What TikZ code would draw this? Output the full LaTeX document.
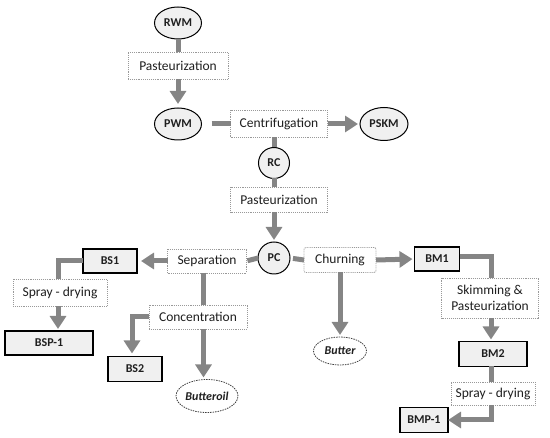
\documentclass[tikz,border=0pt]{standalone}
\usepackage{fontspec}
\setmainfont{Carlito}
\usetikzlibrary{arrows.meta,shapes.geometric,calc}
\definecolor{flow}{HTML}{858585}
\definecolor{fillg}{HTML}{F0F0F0}
\definecolor{txt}{HTML}{1F1F1F}
\definecolor{dotb}{HTML}{999999}
\begin{document}
\begin{tikzpicture}[x=1pt,y=-1pt,
  every node/.style={inner sep=0pt, outer sep=0pt, text=txt},
  proc/.style={draw=dotb, densely dotted, line width=0.9pt, fill=white, font=\fontsize{13.5}{15.5}\selectfont, align=center},
  ell/.style={ellipse, draw=black, line width=1pt, fill=fillg, font=\bfseries\fontsize{12}{14}\selectfont, minimum width=47pt, minimum height=32pt},
  circ/.style={circle, draw=black, line width=1pt, fill=fillg, font=\bfseries\fontsize{12}{14}\selectfont, minimum size=32pt},
  prod/.style={draw=black, line width=1.6pt, fill=fillg, font=\bfseries\fontsize{12}{14}\selectfont, minimum height=24pt},
  fin/.style={ellipse, draw=black!75, dash pattern=on 1.5pt off 1pt, line width=0.8pt, fill=white, font=\bfseries\itshape\fontsize{12}{14}\selectfont},
  flowline/.style={draw=flow, line width=5pt},
  flowarrow/.style={flowline, -{Triangle[width=16pt,length=13pt]}}
]
\useasboundingbox (0,0) rectangle (550,438);
% nodes
\node[ell] (RWM) at (178,23) {RWM};
\node[proc, minimum width=100pt, minimum height=27pt] (P1) at (178,66) {Pasteurization};
\node[ell] (PWM) at (178,124) {PWM};
\node[proc, minimum width=97pt, minimum height=27pt] (Cent) at (279,124) {Centrifugation};
\node[ell, minimum width=48pt, minimum height=33pt] (PSKM) at (384,124) {PSKM};
\node[circ, minimum size=31pt] (RC) at (274,163) {RC};
\node[proc, minimum width=97pt, minimum height=25pt] (P2) at (279,200) {Pasteurization};
\node[circ] (PC) at (274,258) {PC};
\node[proc, minimum width=79pt, minimum height=24pt] (Sep) at (207,261) {Separation};
\node[prod, minimum width=54pt] (BS1) at (110,261) {BS1};
\node[proc, minimum width=72pt, minimum height=25pt, rounded corners=2pt] (Churn) at (340,260) {Churning};
\node[prod, minimum width=45pt] (BM1) at (437,259) {BM1};
\node[proc, minimum width=97pt, minimum height=40pt] (Skim) at (490,298) {Skimming \&\\Pasteurization};
\node[prod, minimum width=68pt, minimum height=25pt] (BM2) at (493,354) {BM2};
\node[proc, minimum width=84pt, minimum height=23pt] (SD2) at (493,394) {Spray - drying};
\node[prod, minimum width=48pt, minimum height=25pt] (BMP) at (424,420) {BMP-1};
\node[fin, minimum width=53pt, minimum height=28pt] (Butter) at (340,351) {Butter};
\node[proc, minimum width=94pt, minimum height=27pt] (SD1) at (60,293) {Spray - drying};
\node[prod, minimum width=88pt] (BSP) at (49,343) {BSP-1};
\node[proc, minimum width=98pt, minimum height=24pt] (Conc) at (198,317) {Concentration};
\node[prod, minimum width=54pt, minimum height=25pt] (BS2) at (135,369) {BS2};
\node[fin, minimum width=62pt, minimum height=33pt] (Boil) at (207,396) {Butteroil};
% coordinates for line positions
\coordinate (xL) at (58,0);
\coordinate (xC) at (203.5,0);
\coordinate (xB) at (132,0);
\coordinate (xR) at (491,0);
% connectors
\draw[flowline] (RWM.south) -- (P1.north);
\draw[flowarrow, shorten >=4pt] (P1.south) -- (PWM.north);
\draw[flowline, shorten <=10pt] (PWM.east) -- (Cent.west);
\draw[flowarrow, shorten >=2pt] (Cent.east) -- (PSKM.west);
\draw[flowline] (Cent.south -| RC.north) -- (RC.north);
\draw[flowline] (RC.south) -- (RC.south |- P2.north);
\draw[flowarrow, shorten >=2pt] (P2.south -| PC.north) -- (PC.north);
\draw[flowline, shorten >=1pt] (PC.west) -- (Sep.east);
\draw[flowarrow, shorten >=4pt] (Sep.west) -- (BS1.east);
\draw[flowline, shorten <=3pt] (PC.east) -- (Churn.west);
\draw[flowarrow, shorten >=2pt] (Churn.east) -- (BM1.west);
\draw[flowline] (BM1.east |- 0,257) -| (xR |- Skim.north);
\draw[flowarrow, shorten >=2pt] (xR |- Skim.south) -- (xR |- BM2.north);
\draw[flowline] (xR |- BM2.south) -- (xR |- SD2.north);
\draw[flowarrow] (xR |- SD2.south) |- (BMP.east);
\draw[flowarrow, shorten >=2pt] (Churn.south -| Butter.north) -- (Butter.north);
\draw[flowline] (BS1.west) -| (xL |- SD1.north);
\draw[flowarrow, shorten >=2pt] (xL |- SD1.south) -- (xL |- BSP.north);
\draw[flowline] (xC |- Sep.south) -- (xC |- Conc.north);
\draw[flowarrow, shorten >=3pt] (Conc.west) -| (xB |- BS2.north);
\draw[flowarrow, shorten >=2pt] (xC |- Conc.south) -- (xC |- Boil.north);
\end{tikzpicture}
\end{document}
